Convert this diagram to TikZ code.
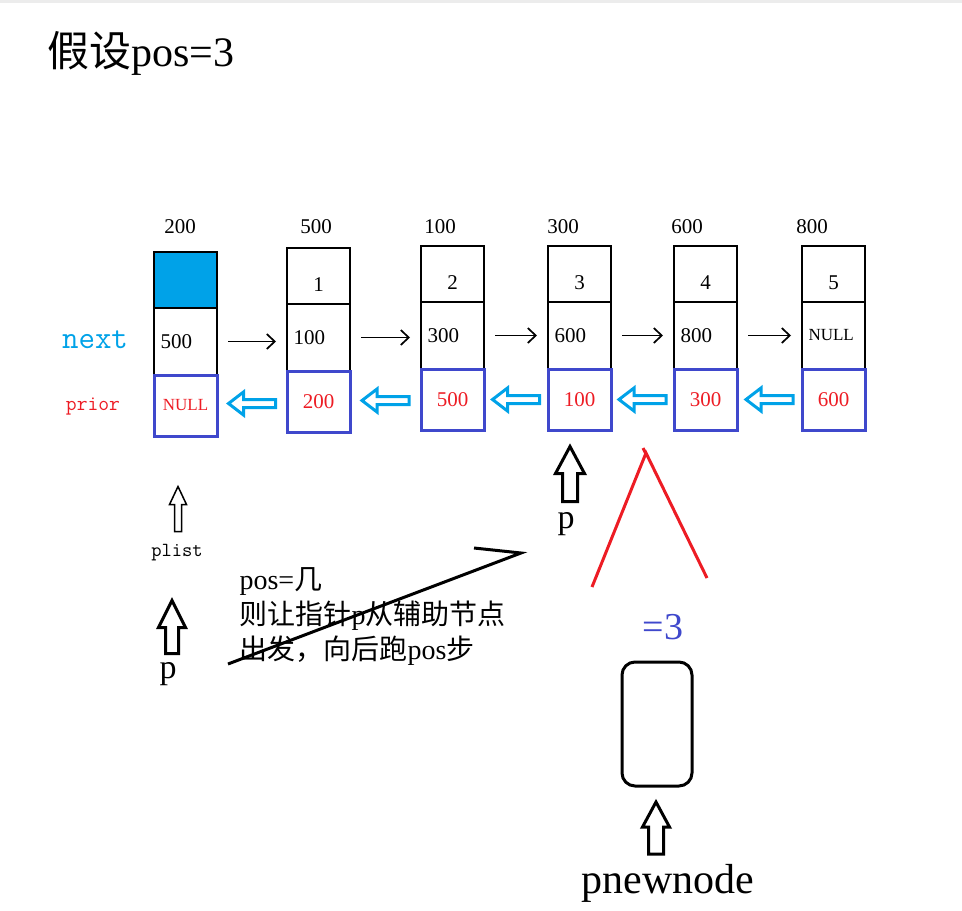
\documentclass[tikz,border=0pt]{standalone}
\usepackage{fontspec}
\setmainfont{Liberation Serif}
\newfontfamily\cjk{Noto Sans CJK SC}
\usetikzlibrary{arrows.meta,calc}
\definecolor{paintcyan}{HTML}{00A2E8}
\definecolor{paintred}{HTML}{ED1C24}
\definecolor{paintblue}{HTML}{3F48CC}
\newcommand{\nul}{{\fontsize{17}{20}\selectfont NULL}}
\tikzset{
  pics/hollow/.style n args={4}{code={%
    \draw (-#1/2,-#3/2) -- (#1/2-#4,-#3/2) -- (#1/2-#4,-#2/2) -- (#1/2,0)
      -- (#1/2-#4,#2/2) -- (#1/2-#4,#3/2) -- (-#1/2,#3/2) -- cycle;}}
}

\begin{document}
\begin{tikzpicture}[x=1pt,y=-1pt,>={Straight Barb[length=8pt,width=15pt]},
  cell/.style={draw,line width=2,inner sep=0,outer sep=0,minimum width=63},
  pcell/.style={cell,draw=paintblue,line width=3},
  num/.style={font=\fontsize{21}{24}\selectfont},
  big/.style={font=\fontsize{34}{40}\selectfont},
  mono/.style={font=\ttfamily\fontsize{#1}{#1}\selectfont}]
  \useasboundingbox (0,0) rectangle (962,911);
  \fill[gray!15] (0,0) rectangle (962,3);
  \node[anchor=west,font=\fontsize{42}{48}\selectfont] (title) at (44,53) {{\cjk 假设}pos=3};
  % left/top/address/address x/data/next/prior/fill
  \foreach \x/\y/\a/\ax/\d/\n/\p/\f [count=\i from 0] in {
      154/252/200/180//500/\nul/paintcyan, 287/248/500/316/1/100/200/white,
      421/246/100/440/2/300/500/white, 548/246/300/563/3/600/100/white,
      674/246/600/687/4/800/300/white, 802/246/800/812/5/\nul/600/white}{
    \node[cell,fill=\f,minimum height=56,anchor=north west] (d\i) at (\x,\y) {};
    \node[cell,minimum height=67,anchor=north,num,text width=50,align=left] (n\i) at (d\i.south) {\n};
    \node[pcell,minimum height=61,anchor=north,num,text=paintred] (r\i) at (n\i.south) {\p};
    \node[num] (v\i) at ([yshift=-9]d\i.center) {\d};
    \node[num] (a\i) at (\ax,227) {\a};
  }
  \foreach \i/\j in {0/1,1/2,2/3,3/4,4/5}{
    \draw[->,line width=1.7,shorten <=11,shorten >=11] (n\i.east) -- (n\i.east -| n\j.west);
    \pic[color=paintcyan,line width=3,rotate=180] at ($(r\i.east)!.5!(r\j.west)$) {hollow={47}{23}{8}{15}};
  }
  \node[mono=32,text=paintcyan] (nextlbl) at (95,340) {next};
  \node[mono=21,text=paintred] (priorlbl) at (93,407) {prior};
  % pointers
  \pic[line width=1.5,rotate=90] at (178,509) {hollow={45}{17}{7}{18}};
  \node[mono=20] (plist) at (177,553) {plist};
  \pic[line width=3,rotate=90] at (172,627) {hollow={53}{27}{13}{27}};
  \node[big] (p1) at (168,674) {p};
  \pic[line width=3,rotate=90] at (570,474) {hollow={55}{29}{15}{27}};
  \node[big] (p2) at (566,524) {p};
  \node[anchor=west,align=left,font=\fontsize{28}{35}\selectfont] (note) at (236,617)
    {pos={\cjk 几}\\{\cjk 则让指针}p{\cjk 从辅助节点}\\{\cjk 出发，向后跑}pos{\cjk 步}};
  \draw[line width=3] (228,664) -- (521,553) -- (474,548);
  \draw[paintred,line width=3] (592,587) -- (646,453) -- (707,578);
  \draw[paintred,line width=3] (643,448) -- (646,454);
  \node[font=\fontsize{38}{44}\selectfont,text=paintblue] (eq) at (663,627) {=3};
  \node[draw,line width=3,rounded corners=13,minimum width=70,minimum height=124] (newnode) at (657,724) {};
  \pic[line width=3,rotate=90] at (656,828) {hollow={52}{27}{15}{25}};
  \node[anchor=base,font=\fontsize{42}{48}\selectfont] (pnew) at (668,893) {pnewnode};
\end{tikzpicture}
\end{document}
